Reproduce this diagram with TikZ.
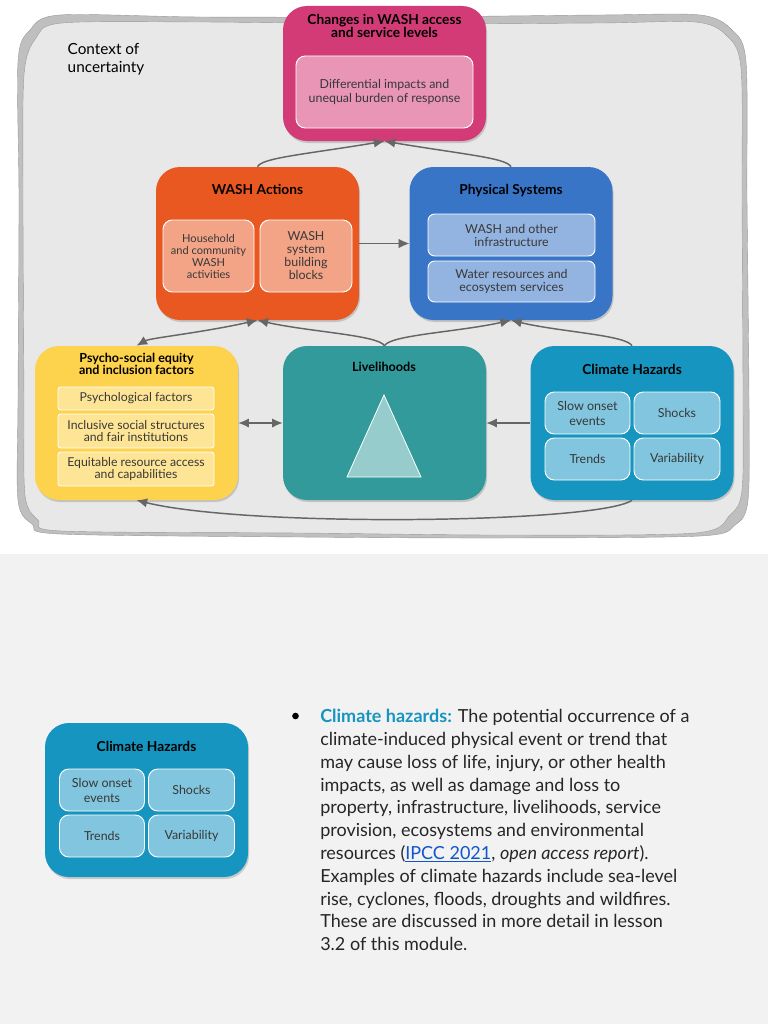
\documentclass[tikz,border=0pt]{standalone}
\usepackage{fontspec}
\setmainfont{Lato}
\usepackage{tikz}
\usetikzlibrary{arrows.meta,shadows}

\definecolor{pagegrey}{HTML}{F2F2F2}
\definecolor{contextgrey}{HTML}{E8E8E8}
\definecolor{pinkdark}{HTML}{D33B77}
\definecolor{pinklight}{HTML}{E895B6}
\definecolor{orangedark}{HTML}{E95820}
\definecolor{orangelight}{HTML}{F3A487}
\definecolor{bluedark}{HTML}{3875C6}
\definecolor{bluelight}{HTML}{93B4E1}
\definecolor{yellowdark}{HTML}{FDD24C}
\definecolor{yellowlight}{HTML}{FEE595}
\definecolor{tealdark}{HTML}{329A9A}
\definecolor{teallight}{HTML}{97CCCC}
\definecolor{hazarddark}{HTML}{1595BF}
\definecolor{hazardlight}{HTML}{81C5DE}
\definecolor{linkblue}{HTML}{1155CC}
\definecolor{arrowgrey}{HTML}{666666}

\begin{document}
\begin{tikzpicture}[
        x = 0.75pt,
        y = -0.75pt,
        >={Latex[length=8pt,width=7pt]},
        panel/.style = {rounded corners=18pt, inner sep=0pt, minimum width=152.25pt,
            drop shadow={shadow xshift=0.8pt, shadow yshift=-1.5pt, opacity=0.35}},
        subbox/.style = {draw=white, line width=0.7pt, rounded corners=7pt, inner sep=0pt,
            align=center, font=\fontsize{9.3}{9.75}\selectfont, text=black!78},
        title/.style = {align=center, inner sep=0pt, font=\fontsize{10.3}{10.3}\selectfont\bfseries},
        link/.style = {draw=arrowgrey, line width=1.1pt}
        ]
        \useasboundingbox (0, 0) rectangle (768, 1024);
        \fill[white] (0, 0) rectangle (768, 554);
        \fill[pagegrey] (0, 554) rectangle (768, 1024);

        % context of uncertainty
        \draw[fill=black!25, draw=black!40, line width=0.3pt] plot[smooth cycle] coordinates {
            (60,15) (200,17) (400,17) (600,15) (700,15) (732,30) (746,62) (747,200) (749,400) (748,500) (735,525)
            (700,536) (500,538) (300,537) (60,534) (32,524) (18,500) (18,400) (19,200) (18,62) (30,30)};
        \draw[fill=contextgrey, draw=black!40, line width=0.3pt] plot[smooth cycle] coordinates {
            (62,23) (200,22) (400,24) (600,23) (695,22) (726,35) (741,68) (742,200) (743,400) (742,490) (730,515)
            (695,533) (500,535) (300,533) (62,531) (38,520) (25,495) (24,400) (23,200) (24,75) (36,38)};
        \node[align=left, inner sep=0pt, font=\fontsize{11.5}{13.6}\selectfont] (context) at (106, 59) {Context of\\uncertainty};

        % top row
        \node[panel, fill=pinkdark, minimum height=101.25pt] (changes) at (384.5, 73.5) {};
        \node[title] (changestitle) at (384.5, 26) {Changes in WASH access\\and service levels};
        \node[subbox, fill=pinklight, minimum width=132.75pt, minimum height=54pt, font=\fontsize{9.3}{11.2}\selectfont] (impacts) at (384.5, 92) {Differential impacts and\\unequal burden of response};

        % middle row
        \node[panel, fill=orangedark, minimum height=114.75pt] (actions) at (257.5, 243.5) {};
        \node[title] (actionstitle) at (257.5, 189) {WASH Actions};
        \node[subbox, fill=orangelight, minimum width=68.25pt, minimum height=54pt, font=\fontsize{8.3}{9}\selectfont] (household) at (208.5, 256) {Household\\and community\\WASH\\activities};
        \node[subbox, fill=orangelight, minimum width=69pt, minimum height=54pt] (blocks) at (306, 256) {WASH\\system\\building\\blocks};

        \node[panel, fill=bluedark, minimum height=114.75pt] (physical) at (511, 243.5) {};
        \node[title] (physicaltitle) at (511, 190.5) {Physical Systems};
        \node[subbox, rounded corners=5pt, fill=bluelight, minimum width=125.25pt, minimum height=31.5pt] (infra) at (511.5, 235) {WASH and other\\infrastructure};
        \node[subbox, rounded corners=5pt, fill=bluelight, minimum width=125.25pt, minimum height=30.75pt] (water) at (511.5, 281.5) {Water resources and\\ecosystem services};

        % bottom row
        \node[panel, fill=yellowdark, minimum height=115.5pt] (psycho) at (136.5, 423) {};
        \node[title, font=\fontsize{9.4}{8.4}\selectfont\bfseries] (psychotitle) at (136.5, 364) {Psycho-social equity\\and inclusion factors};
        \node[subbox, rounded corners=2pt, fill=yellowlight, minimum width=117pt, minimum height=17.25pt, font=\fontsize{9.2}{8.4}\selectfont] (psychological) at (136, 398.5) {Psychological factors};
        \node[subbox, rounded corners=2pt, fill=yellowlight, minimum width=117pt, minimum height=25.5pt, font=\fontsize{9.2}{8.4}\selectfont] (inclusive) at (136, 431) {Inclusive social structures\\and fair institutions};
        \node[subbox, rounded corners=2pt, fill=yellowlight, minimum width=117pt, minimum height=25.5pt, font=\fontsize{9.2}{8.8}\selectfont] (equitable) at (136, 469) {Equitable resource access\\and capabilities};

        \node[panel, fill=tealdark, minimum height=115.5pt] (livelihoods) at (384.5, 423) {};
        \node[title, font=\fontsize{9.5}{9.6}\selectfont\bfseries] (livelihoodstitle) at (384, 367) {Livelihoods};
        \draw[fill=teallight, draw=white, line width=0.6pt] (347, 477) -- (421, 477) -- (384, 395) -- cycle;

        \node[panel, fill=hazarddark, minimum height=115.5pt] (hazards) at (632, 423) {};
        \node[title] (hazardstitle) at (632, 369) {Climate Hazards};
        \node[subbox, fill=hazardlight, minimum width=63.75pt, minimum height=31.5pt, font=\fontsize{9.4}{11.2}\selectfont] (slow) at (587.5, 413) {Slow onset\\events};
        \node[subbox, fill=hazardlight, minimum width=64.5pt, minimum height=31.5pt] (shocks) at (677, 413) {Shocks};
        \node[subbox, fill=hazardlight, minimum width=63.75pt, minimum height=31.5pt] (trends) at (587.5, 459) {Trends};
        \node[subbox, fill=hazardlight, minimum width=64.5pt, minimum height=31.5pt, text height=7pt, text depth=2pt] (variability) at (677, 459) {Variability};

        % connectors
        \draw[link, ->] (actions.north) .. controls (262, 158) and (300, 155) .. (changes.south);
        \draw[link, ->] (physical.north) .. controls (506, 158) and (468, 155) .. (changes.south);
        \draw[link, <->] (psycho.north) .. controls (150, 338) and (200, 333) .. (actions.south);
        \draw[link, ->] (livelihoods.north) .. controls (378, 335) and (310, 332) .. (actions.south);
        \draw[link, ->] (livelihoods.north) .. controls (390, 335) and (458, 332) .. (physical.south);
        \draw[link, ->] (hazards.north) .. controls (626, 335) and (560, 332) .. (physical.south);
        \draw[link, line width=0.5pt, ->] (actions.east) -- (physical.west);
        \draw[link, <->] (psycho.east) -- (livelihoods.west);
        \draw[link, ->] (hazards.west) -- (livelihoods.east);
        \draw[link, ->] (hazards.south) .. controls (600, 523) and (250, 528) .. (psycho.south);

        % lower part
        \node[panel, fill=hazarddark, minimum height=115.5pt] (legend) at (146.5, 800) {};
        \node[title] (legendtitle) at (146.5, 746) {Climate Hazards};
        \node[subbox, fill=hazardlight, minimum width=63.75pt, minimum height=31.5pt, font=\fontsize{9.4}{11.2}\selectfont] (legendslow) at (102, 790) {Slow onset\\events};
        \node[subbox, fill=hazardlight, minimum width=64.5pt, minimum height=31.5pt] (legendshocks) at (191.5, 790) {Shocks};
        \node[subbox, fill=hazardlight, minimum width=63.75pt, minimum height=31.5pt] (legendtrends) at (102, 836) {Trends};
        \node[subbox, fill=hazardlight, minimum width=64.5pt, minimum height=31.5pt, text height=7pt, text depth=2pt] (legendvariability) at (191.5, 836) {Variability};

        \node[circle, fill=black, inner sep=0pt, minimum size=5pt] (bullet) at (295.5, 716) {};
        \node[anchor=north west, align=left, inner sep=0pt, text=black!85, font=\fontsize{13.5}{17.1}\selectfont] (description) at (320, 709) {\textcolor{hazarddark}{\bfseries Climate hazards:} The potential occurrence of a\\
            climate-induced physical event or trend that\\
            may cause loss of life, injury, or other health\\
            impacts, as well as damage and loss to\\
            property, infrastructure, livelihoods, service\\
            provision, ecosystems and environmental\\
            resources (\textcolor{linkblue}{\underline{IPCC 2021}}, \textit{open access report}).\\
            Examples of climate hazards include sea-level\\
            rise, cyclones, floods, droughts and wildfires.\\
            These are discussed in more detail in lesson\\
            3.2 of this module.};
    \end{tikzpicture}
\end{document}
